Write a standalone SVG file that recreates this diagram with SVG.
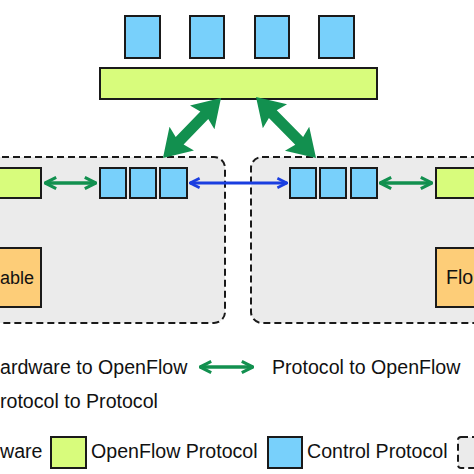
<svg xmlns="http://www.w3.org/2000/svg" width="474" height="474" viewBox="0 0 474 474">
<defs>
<style>
.ctl{fill:#78d0fb;stroke:#1a1a1a;stroke-width:2}
.ofp{fill:#d8fc7c;stroke:#1a1a1a;stroke-width:2}
.hw{fill:#fdcd78;stroke:#1a1a1a;stroke-width:2}
.sw{fill:#ebebeb;stroke:#1a1a1a;stroke-width:2;stroke-dasharray:7,4}
.t{font-family:"Liberation Sans",Arial,sans-serif;font-size:19.6px;fill:#111}
.g{stroke:#12904f;stroke-width:3.5;fill:none}
.b{stroke:#1a3ee0;stroke-width:3;fill:none}
.thick{fill:#12904f}
</style>
<marker id="gh" viewBox="0 0 10 10" refX="9" refY="5" markerWidth="4" markerHeight="4" orient="auto-start-reverse" markerUnits="strokeWidth">
<path d="M1,1 L9,5 L1,9" fill="none" stroke="#12904f" stroke-width="2.2"/>
</marker>
<marker id="bh" viewBox="0 0 10 10" refX="9" refY="5" markerWidth="4" markerHeight="4" orient="auto-start-reverse" markerUnits="strokeWidth">
<path d="M1,1 L9,5 L1,9" fill="none" stroke="#1a3ee0" stroke-width="2.2"/>
</marker>
</defs>
<rect width="474" height="474" fill="#ffffff"/>

<g id="switch-left">
<rect class="sw" x="-20" y="157" width="245" height="166" rx="11"/>
<rect id="ofp-left" class="ofp" x="-10" y="168" width="51" height="30"/>
<rect class="ctl" x="100" y="168" width="26" height="30"/>
<rect class="ctl" x="130" y="168" width="26" height="30"/>
<rect class="ctl" x="160" y="168" width="27" height="30"/>
<rect id="hw-left" class="hw" x="-10" y="248" width="51" height="59"/>
<text class="t" x="0" y="284" style="font-size:18px">able</text>
</g>

<g id="switch-right">
<rect class="sw" x="251" y="157" width="245" height="166" rx="11"/>
<rect class="ctl" x="290" y="168" width="26" height="30"/>
<rect class="ctl" x="320" y="168" width="26" height="30"/>
<rect class="ctl" x="351" y="168" width="26" height="30"/>
<rect id="ofp-right" class="ofp" x="436" y="168" width="50" height="30"/>
<rect id="hw-right" class="hw" x="436" y="248" width="50" height="59"/>
<text class="t" x="446" y="284">Flo</text>
</g>

<g id="controller">
<rect class="ctl" x="125" y="16" width="35" height="42"/>
<rect class="ctl" x="190" y="16" width="34" height="42"/>
<rect class="ctl" x="255" y="16" width="34" height="42"/>
<rect class="ctl" x="319" y="16" width="35" height="42"/>
<rect class="ofp" x="100" y="68" width="277" height="31"/>
</g>

<g id="connectors">
<path class="thick" transform="translate(221,98) rotate(134.03)" d="M0,0 L27,-17 L24,-5.5 L59.5,-5.5 L56.5,-17 L83.5,0 L56.5,17 L59.5,5.5 L24,5.5 L27,17 Z"/>
<path class="thick" transform="translate(256,97) rotate(45.47)" d="M0,0 L27,-17 L24,-5.5 L61.6,-5.5 L58.6,-17 L85.6,0 L58.6,17 L61.6,5.5 L24,5.5 L27,17 Z"/>
<line class="g" x1="45" y1="183" x2="96" y2="183" marker-start="url(#gh)" marker-end="url(#gh)"/>
<line class="g" x1="380" y1="183" x2="432" y2="183" marker-start="url(#gh)" marker-end="url(#gh)"/>
<line class="b" x1="190" y1="183" x2="287" y2="183" marker-start="url(#bh)" marker-end="url(#bh)"/>
</g>

<g id="legend">
<text class="t" x="0" y="374">ardware to OpenFlow</text>
<line class="g" x1="200" y1="367" x2="253" y2="367" marker-start="url(#gh)" marker-end="url(#gh)"/>
<text class="t" x="272" y="374">Protocol to OpenFlow</text>
<text class="t" x="0" y="408">rotocol to Protocol</text>
<text class="t" x="0" y="458">ware</text>
<rect class="ofp" x="51" y="437" width="35" height="31"/>
<text class="t" x="91" y="458">OpenFlow Protocol</text>
<rect class="ctl" x="268" y="437" width="34" height="31"/>
<text class="t" x="307" y="458">Control Protocol</text>
<rect class="sw" x="458" y="437" width="40" height="31" rx="3"/>
</g>
</svg>
